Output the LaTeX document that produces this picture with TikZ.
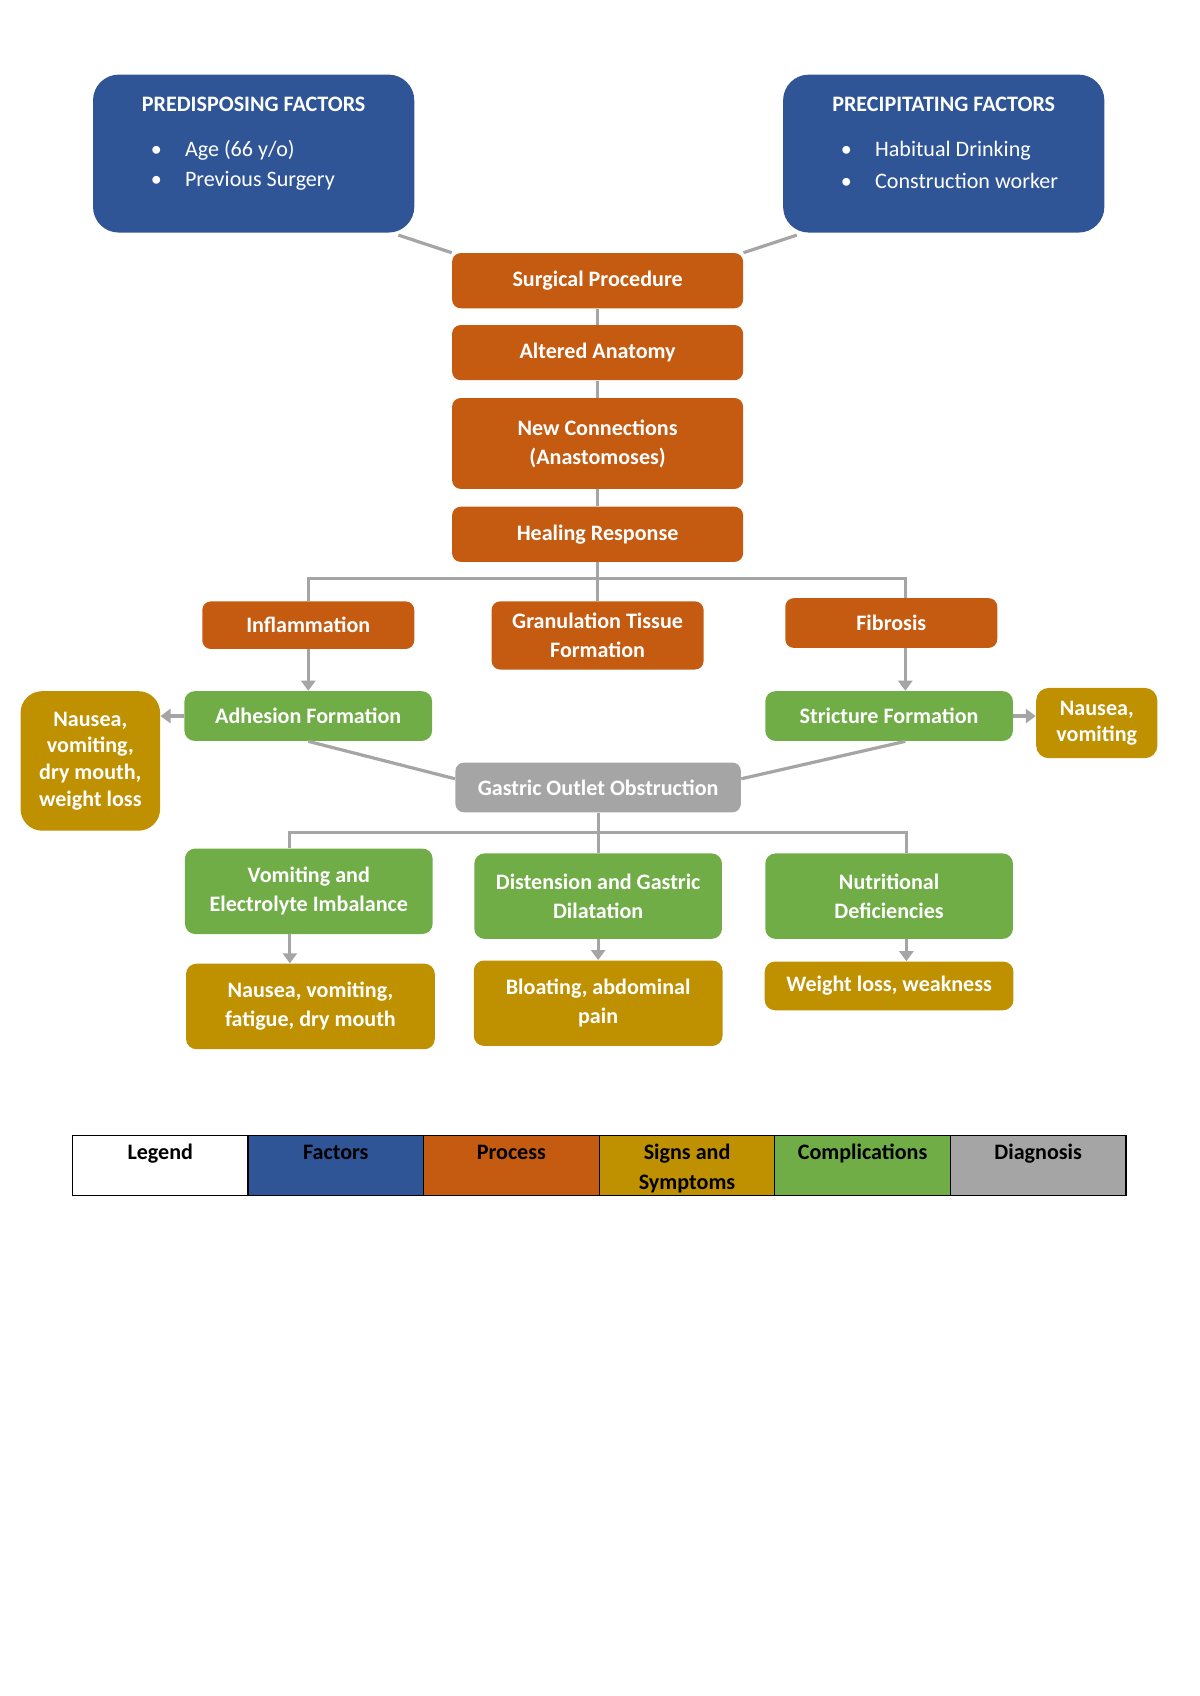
\documentclass[tikz,border=0pt]{standalone}
\usepackage{fontspec}
\setmainfont{Carlito}
\usepackage{xcolor}
\usepackage{tikz}
\usetikzlibrary{positioning,calc,arrows.meta}
\definecolor{factorblue}{HTML}{2F5597}
\definecolor{procorange}{HTML}{C55A11}
\definecolor{signgold}{HTML}{BF9000}
\definecolor{compgreen}{HTML}{70AD47}
\definecolor{diaggray}{HTML}{A5A5A5}

\begin{document}
\begin{tikzpicture}[x=0.018936cm, y=-0.018936cm,
  box/.style={rectangle, inner sep=2pt, text=white, align=center,
    font=\fontsize{11}{14.5}\selectfont\bfseries},
  factorbox/.style={box, fill=factorblue, rounded corners=0.45cm,
    minimum width=5.624cm, minimum height=2.765cm},
  factortitle/.style={inner sep=0pt, text=white, font=\fontsize{11}{14.5}\selectfont\bfseries},
  factoritem/.style={anchor=west, inner sep=0pt, text=white, font=\fontsize{11}{14.5}\selectfont},
  procbox/.style={box, fill=procorange, rounded corners=0.15cm},
  compbox/.style={box, fill=compgreen, rounded corners=0.18cm},
  signbox/.style={box, fill=signgold, rounded corners=0.18cm},
  diagbox/.style={box, fill=diaggray, rounded corners=0.15cm},
  link/.style={draw=diaggray, line width=1.6pt},
  arr/.style={link, -{Triangle[length=5pt, width=7pt]}},
  legcell/.style={draw=black, line width=0.6pt, minimum width=3.074cm,
    minimum height=1.041cm, inner sep=0pt},
  legtext/.style={anchor=north, inner sep=1.2pt, align=center,
    font=\fontsize{11}{15}\selectfont\bfseries}]
  \useasboundingbox (0,0) rectangle (1109,1568);

  % Factors
  \node[factorbox] (predis) at (234.5,142) {};
  \node[factortitle] (predisT) at (234.5,96) {PREDISPOSING FACTORS};
  \node[factoritem] (predisA) at (139,139) {\makebox[0.6cm][l]{\textbullet}Age (66 y/o)};
  \node[factoritem] (predisB) at (139,167) {\makebox[0.6cm][l]{\textbullet}Previous Surgery};

  \node[factorbox] (precip) at (872.5,142) {};
  \node[factortitle] (precipT) at (872.5,96) {PRECIPITATING FACTORS};
  \node[factoritem] (precipA) at (777,139) {\makebox[0.6cm][l]{\textbullet}Habitual Drinking};
  \node[factoritem] (precipB) at (777,167) {\makebox[0.6cm][l]{\textbullet}Construction worker};

  % Process chain
  \node[procbox, minimum width=5.094cm, minimum height=0.966cm] (surg) at (552.5,259.5) {Surgical Procedure};
  \node[procbox, minimum width=5.094cm, minimum height=0.966cm] (alter) at (552.5,326) {Altered Anatomy};
  \node[procbox, minimum width=5.094cm, minimum height=1.591cm] (newcon) at (552.5,410) {New Connections\\(Anastomoses)};
  \node[procbox, minimum width=5.094cm, minimum height=0.966cm] (heal) at (552.5,494) {Healing Response};

  \node[procbox, minimum width=3.711cm, minimum height=0.833cm] (infl) at (285,578) {Inflammation};
  \node[procbox, minimum width=3.711cm, minimum height=1.193cm] (gran) at (552.5,587.5) {Granulation Tissue\\Formation};
  \node[procbox, minimum width=3.711cm, minimum height=0.871cm] (fib) at (824,576) {Fibrosis};

  % Complications and signs
  \node[compbox, minimum width=4.336cm, minimum height=0.871cm] (adh) at (285,662) {Adhesion Formation};
  \node[compbox, minimum width=4.336cm, minimum height=0.871cm] (strict) at (822,662) {Stricture Formation};
  \node[signbox, rounded corners=0.38cm, minimum width=2.443cm, minimum height=2.443cm,
    font=\fontsize{11}{13.3}\selectfont\bfseries] (symL) at (83.5,703.5) {Nausea,\\vomiting,\\dry mouth,\\weight loss};
  \node[signbox, rounded corners=0.22cm, minimum width=2.121cm, minimum height=1.231cm,
    font=\fontsize{11}{13.3}\selectfont\bfseries] (symR) at (1014,668.5) {Nausea,\\vomiting};

  \node[diagbox, minimum width=4.999cm, minimum height=0.871cm] (goo) at (553,728) {Gastric Outlet Obstruction};

  \node[compbox, minimum width=4.336cm, minimum height=1.496cm] (vomit) at (285.5,824) {Vomiting and\\Electrolyte Imbalance};
  \node[compbox, minimum width=4.336cm, minimum height=1.496cm] (dist) at (553,828.5) {Distension and Gastric\\Dilatation};
  \node[compbox, minimum width=4.336cm, minimum height=1.496cm] (nutri) at (822,828.5) {Nutritional\\Deficiencies};

  \node[signbox, minimum width=4.355cm, minimum height=1.496cm] (symA) at (287,930.5) {Nausea, vomiting,\\fatigue, dry mouth};
  \node[signbox, minimum width=4.355cm, minimum height=1.496cm] (symB) at (553,927.5) {Bloating, abdominal\\pain};
  \node[signbox, minimum width=4.355cm, minimum height=0.852cm] (symC) at (822,911.5) {Weight loss, weakness};

  % Connectors
  \draw[link] ($(predis.south east)+(-15,2)$) -- (surg.north west);
  \draw[link] ($(precip.south west)+(13,2)$) -- (surg.north east);
  \draw[link] (surg) -- (alter);
  \draw[link] (alter) -- (newcon);
  \draw[link] (newcon) -- (heal);
  \draw[link] (heal) -- (gran);
  \coordinate (rdrop) at (837,535);
  \draw[link] (infl.north) |- (rdrop) -- (fib.north -| rdrop);
  \draw[arr] (infl) -- (adh);
  \draw[arr] (fib.south -| rdrop) -- (strict.north -| rdrop);
  \draw[arr] (adh.west) -- (symL.east |- adh.west);
  \draw[arr] (strict.east) -- (symR.west |- strict.east);
  \draw[link] (adh.south) -- ($(goo.west)+(0,-8)$);
  \draw[link] (strict.south -| rdrop) -- ($(goo.east)+(0,-8)$);
  \draw[link] (goo) -- (dist);
  \coordinate (ldrop2) at (268,770);
  \coordinate (rdrop2) at (838,770);
  \draw[link] (vomit.north -| ldrop2) |- (rdrop2) -- (nutri.north -| rdrop2);
  \draw[arr] (vomit.south -| ldrop2) -- (symA.north -| ldrop2);
  \draw[arr] (dist) -- (symB);
  \draw[arr] (nutri.south -| rdrop2) -- (symC.north -| rdrop2);

  % Legend
  \node[legcell, fill=white, label={[legtext]north:\strut Legend}] (legA) at (148.2,1077.5) {};
  \node[legcell, fill=factorblue, label={[legtext]north:\strut Factors}] (legB) at (310.5,1077.5) {};
  \node[legcell, fill=procorange, label={[legtext]north:\strut Process}] (legC) at (472.8,1077.5) {};
  \node[legcell, fill=signgold, label={[legtext]north:\strut Signs and\\Symptoms}] (legD) at (635.2,1077.5) {};
  \node[legcell, fill=compgreen, label={[legtext]north:\strut Complications}] (legE) at (797.5,1077.5) {};
  \node[legcell, fill=diaggray, label={[legtext]north:\strut Diagnosis}] (legF) at (959.8,1077.5) {};
\end{tikzpicture}
\end{document}
